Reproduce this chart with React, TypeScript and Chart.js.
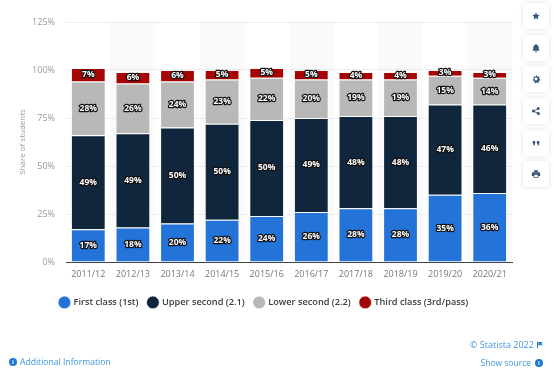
import React, { useEffect, useRef } from "react";
import { Chart, registerables } from "chart.js";

Chart.register(...registerables);

const categories = ["2011/12", "2012/13", "2013/14", "2014/15", "2015/16", "2016/17", "2017/18", "2018/19", "2019/20", "2020/21"];
const firstClass = [17, 18, 20, 22, 24, 26, 28, 28, 35, 36];
const upperSecond = [49, 49, 50, 50, 50, 49, 48, 48, 47, 46];
const lowerSecond = [28, 26, 24, 23, 22, 20, 19, 19, 15, 14];
const thirdClass = [7, 6, 6, 5, 5, 5, 4, 4, 3, 3];
const seriesNames = ["First class (1st)", "Upper second (2.1)", "Lower second (2.2)", "Third class (3rd/pass)"];
const seriesColors = ["#2473d9", "#10263d", "#b8b8b8", "#a60505"];

const FONT = '"Open Sans", sans-serif';

const bandsPlugin = {
  id: "bands",
  beforeDatasetsDraw(chart: any) {
    const { ctx, chartArea, scales } = chart;
    const step = scales.x.width / categories.length;
    ctx.save();
    ctx.fillStyle = "rgba(120,120,140,0.04)";
    categories.forEach((_, i) => {
      if (i % 2 === 1) {
        ctx.fillRect(scales.x.getPixelForTick(i) - step / 2, chartArea.top, step, chartArea.height);
      }
    });
    ctx.restore();
  },
};

const labelsPlugin = {
  id: "stackLabels",
  afterDatasetsDraw(chart: any) {
    const { ctx } = chart;
    ctx.save();
    ctx.font = `700 8.5px ${FONT}`;
    ctx.textAlign = "center";
    ctx.textBaseline = "middle";
    ctx.lineJoin = "round";
    chart.data.datasets.forEach((ds: any, d: number) => {
      chart.getDatasetMeta(d).data.forEach((bar: any, i: number) => {
        const y = (bar.y + bar.base) / 2;
        const t = `${ds.data[i]}%`;
        ctx.lineWidth = 2.4;
        ctx.strokeStyle = "#111";
        ctx.strokeText(t, bar.x, y);
        ctx.fillStyle = "#fff";
        ctx.fillText(t, bar.x, y);
      });
    });
    ctx.restore();
  },
};

const iconPaths = [
  "M12 3l2.7 5.8 6.3.8-4.6 4.3 1.2 6.3L12 17l-5.6 3.2 1.2-6.3L3 9.6l6.3-.8z",
  "M12 2.5a2 2 0 0 1 2 2v.4c2.9.8 4.5 3.2 4.5 6.1v4l2 2.5v1H3.500v-1l2-2.500v-4c0-2.900 1.600-5.300 4.500-6.100v-.4a2 2 0 0 1 2-2zM9.500 20.500h5a2.500 2.500 0 0 1-5 0z",
  "M12 3l2 .3.6 2.400 1.700.7 2.100-1.300 2.300 2.700-1.400 2 .5 1.900 2.200 1-.6 3.500-2.400.2-1 1.600.9 2.300-3 1.800-1.700-1.800h-2l-1.600 1.800-3-1.800.9-2.300-1-1.600-2.400-.2-.6-3.500 2.200-1 .5-1.900-1.400-2 2.300-2.700 2.100 1.300 1.700-.7zM12 8.500a3.500 3.500 0 1 0 0 7 3.500 3.500 0 0 0 0-7z",
  "M17.500 2.500a3.500 3.500 0 1 1-2.700 5.700l-5.900 3a3.500 3.500 0 0 1 0 1.600l5.900 3a3.500 3.500 0 1 1-.8 1.700l-6-3a3.500 3.500 0 1 1 0-5l6-3a3.500 3.500 0 0 1 3.500-4z",
  "M4 7h6v6c0 3-1.500 4.500-4 5l-.7-1.800c1.200-.4 2-1.200 2-2.200H4zM14 7h6v6c0 3-1.500 4.500-4 5l-.7-1.800c1.200-.4 2-1.200 2-2.200H14z",
  "M7 3h10v4H7zM5 8h14a3 3 0 0 1 3 3v6h-4v4H6v-4H2v-6a3 3 0 0 1 3-3zM8 14v5h8v-5z",
];
const iconTops = [3, 35, 66, 98, 130, 161];

const pos = (left: number, top: number, size = 9): React.CSSProperties => ({
  position: "absolute",
  left,
  top,
  font: `400 ${size}px ${FONT}`,
  color: "#3f97e0",
  whiteSpace: "nowrap",
  lineHeight: "12px",
});

const Dot = ({ left, top }: { left: number; top: number }) => (
  <div style={{ position: "absolute", left, top, width: 8, height: 8, borderRadius: 4, background: "#1a78d6", color: "#fff", font: `700 6px/8px ${FONT}`, textAlign: "center" }}>i</div>
);

export default function App() {
  const ref = useRef<HTMLCanvasElement>(null);
  useEffect(() => {
    const chart = new Chart(ref.current!, {
      type: "bar",
      data: {
        labels: categories,
        datasets: [firstClass, upperSecond, lowerSecond, thirdClass].map((data, i) => ({
          label: seriesNames[i],
          data,
          backgroundColor: seriesColors[i],
          borderColor: "rgba(255,255,255,0.65)",
          borderWidth: 1,
          barPercentage: 0.78,
          categoryPercentage: 1,
        })),
      },
      options: {
        responsive: false,
        animation: false,
        layout: { padding: { top: 22, left: 16, right: 42, bottom: 60 } },
        plugins: {
          tooltip: { enabled: false },
          legend: {
            position: "bottom",
            labels: {
              usePointStyle: true,
              pointStyle: "circle",
              boxWidth: 9,
              boxHeight: 9,
              padding: 10,
              color: "#3c3c3c",
              font: { family: FONT, size: 9.2, weight: "600" },
            },
          },
        },
        scales: {
          x: {
            stacked: true,
            grid: { display: false, drawTicks: false },
            border: { color: "#444", width: 1 },
            ticks: { color: "#777", padding: 7, maxRotation: 0, font: { family: FONT, size: 9 } },
            afterFit(s: any) { s.height += 1; },
          },
          y: {
            stacked: true,
            min: 0,
            max: 125,
            afterFit(s: any) { s.width = 50; },
            grid: { color: "#efefef", lineWidth: 1, drawTicks: false },
            border: { display: false },
            title: { display: true, text: "Share of students", color: "#999", padding: { top: 2, bottom: 0 }, font: { family: FONT, size: 8 } },
            ticks: { stepSize: 25, padding: 11, color: "#999", font: { family: FONT, size: 9 }, callback: (v: any) => `${v}%` },
          },
        },
      },
      plugins: [bandsPlugin, labelsPlugin],
    } as any);
    return () => chart.destroy();
  }, []);
  return (
    <div style={{ position: "absolute", left: 0, top: 0, width: 554, height: 377, overflow: "hidden", background: "#fff" }}>
      <canvas ref={ref} width={554} height={377} style={{ display: "block" }} />
      {iconTops.map((top, i) => (
        <div key={top} style={{ position: "absolute", left: 523, top, width: 26, height: 26, borderRadius: 4, background: "#fff", boxShadow: "0 0 5px rgba(0,0,0,0.12)", display: "flex", alignItems: "center", justifyContent: "center" }}>
          <svg width="10" height="10" viewBox="0 0 24 24" fillRule="evenodd" fill="#3b5578"><path d={iconPaths[i]} /></svg>
        </div>
      ))}
      <Dot left={9} top={358} />
      <div style={pos(20, 356, 8.6)}>Additional Information</div>
      <div style={{ ...pos(470, 339), width: 61, textAlign: "right" }}>© Statista 2022</div>
      <svg style={{ position: "absolute", left: 536, top: 341 }} width="8" height="8" viewBox="0 0 24 24" fill="#1a78d6"><path d="M3 2h3v20H3zM7 3h13l-4 5 4 5H7z" /></svg>
      <div style={{ ...pos(470, 357, 8.5), width: 61, textAlign: "right" }}>Show source</div>
      <Dot left={535} top={359} />
    </div>
  );
}
